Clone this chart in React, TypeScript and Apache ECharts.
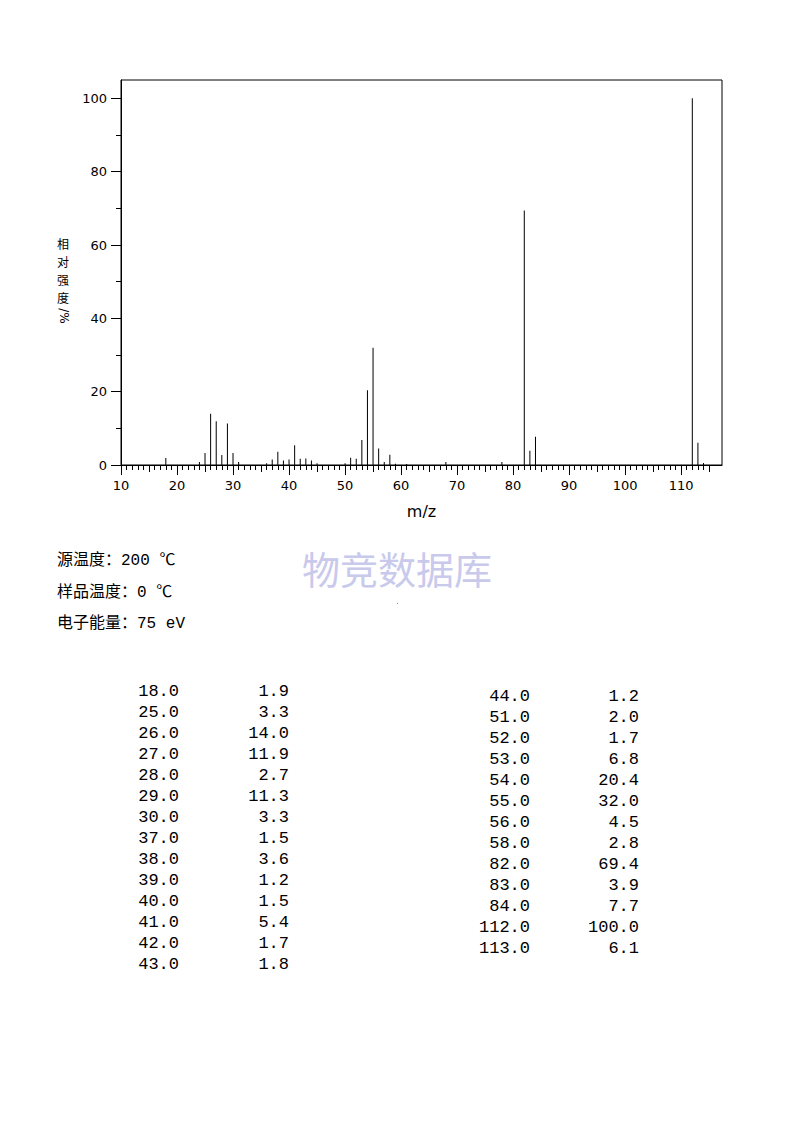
import { useEffect, useRef } from 'react';
import * as echarts from 'echarts';

// peaks that are listed in the table under the plot
const listedMz = [18, 25, 26, 27, 28, 29, 30, 37, 38, 39, 40, 41, 42, 43, 44, 51, 52, 53, 54, 55, 56, 58, 82, 83, 84, 112, 113];
const listedIntensity = [1.9, 3.3, 14.0, 11.9, 2.7, 11.3, 3.3, 1.5, 3.6, 1.2, 1.5, 5.4, 1.7, 1.8, 1.2, 2.0, 1.7, 6.8, 20.4, 32.0, 4.5, 2.8, 69.4, 3.9, 7.7, 100.0, 6.1];
// small peaks seen in the plot only
const minorMz = [24, 31, 36, 45, 50, 57, 59, 61, 68, 78, 114];
const minorIntensity = [0.8, 0.8, 0.45, 0.45, 0.5, 0.8, 0.35, 0.3, 0.8, 0.8, 0.55];

const xLabelValues = [10, 20, 30, 40, 50, 60, 70, 80, 90, 100, 110];
const xMidTicks = [15, 25, 35, 45, 55, 65, 75, 85, 95, 105, 115];
const xSmallTicks = Array.from({ length: 105 }, (_, i) => 11 + i).filter((v) => v % 5 !== 0);
const yLabelValues = [0, 20, 40, 60, 80, 100];
const yMinorTicks = [10, 30, 50, 70, 90];

const yNameChars = ['相', '对', '强', '度'];
const infoLines = ['源温度：200 ℃', '样品温度：0 ℃', '电子能量：75 eV'];
const watermark = '物竞数据库';

const labelFont = '"DejaVu Sans", Verdana, sans-serif';
const cjkFont = '"Liberation Mono", "Noto Sans CJK SC", monospace';
const monoFont = '"Liberation Mono", monospace';

const txt = (x: number, y: number, text: string, size: number, family: string, align = 'left', fill = '#000', extra: any = {}) => ({
  type: 'text',
  x,
  y,
  ...extra,
  style: {
    text,
    fontSize: size,
    fontFamily: family,
    fill,
    align,
    textAlign: align,
    verticalAlign: 'middle',
    textVerticalAlign: 'middle',
  },
});

const App = () => {
  const chartDom = useRef<HTMLDivElement | null>(null);

  useEffect(() => {
    if (!chartDom.current) return;
    const myChart = echarts.init(chartDom.current, null, { renderer: 'svg' });

    const peaks = listedMz
      .map((m, i) => [m, listedIntensity[i]])
      .concat(minorMz.map((m, i) => [m, minorIntensity[i]]))
      .sort((a, b) => a[0] - b[0]);

    const table: any[] = [];
    listedMz.forEach((m, i) => {
      const left = i < 14;
      const row = left ? i : i - 14;
      const y = (left ? 691 : 696) + row * 21;
      table.push(txt(left ? 179 : 530, y, m.toFixed(1), 17, monoFont, 'right'));
      table.push(txt(left ? 289 : 639, y, listedIntensity[i].toFixed(1), 17, monoFont, 'right'));
    });

    const baseX = {
      type: 'value',
      min: 10,
      max: 117.3,
      position: 'bottom',
      gridIndex: 0,
      splitLine: { show: false },
    };
    const baseY = {
      type: 'value',
      min: 0,
      max: 105,
      position: 'left',
      gridIndex: 0,
      splitLine: { show: false },
    };

    const option = {
      animation: false,
      backgroundColor: '#fff',
      grid: {
        left: 121,
        top: 80,
        width: 601,
        height: 385,
        show: true,
        borderColor: '#000',
        borderWidth: 1,
        backgroundColor: 'transparent',
      },
      xAxis: [
        {
          ...baseX,
          name: 'm/z',
          nameLocation: 'middle',
          nameGap: 38,
          nameTextStyle: { fontSize: 16, fontFamily: labelFont, color: '#000' },
          axisLine: { show: true, onZero: false, lineStyle: { color: '#000', width: 1 } },
          axisTick: { show: true, customValues: xLabelValues, length: 10, lineStyle: { color: '#000' } },
          axisLabel: { customValues: xLabelValues, margin: 14, fontSize: 13, fontFamily: labelFont, color: '#000' },
        },
        {
          ...baseX,
          axisLine: { show: false },
          axisTick: { show: true, customValues: xMidTicks, length: 7, lineStyle: { color: '#000' } },
          axisLabel: { show: false },
        },
        {
          ...baseX,
          axisLine: { show: false },
          axisTick: { show: true, customValues: xSmallTicks, length: 5, lineStyle: { color: '#000' } },
          axisLabel: { show: false },
        },
      ],
      yAxis: [
        {
          ...baseY,
          axisLine: { show: true, onZero: false, lineStyle: { color: '#000', width: 1 } },
          axisTick: { show: true, customValues: yLabelValues, length: 10, lineStyle: { color: '#000' } },
          axisLabel: { customValues: yLabelValues, margin: 14, fontSize: 13, fontFamily: labelFont, color: '#000' },
        },
        {
          ...baseY,
          axisLine: { show: false },
          axisTick: { show: true, customValues: yMinorTicks, length: 5, lineStyle: { color: '#000' } },
          axisLabel: { show: false },
        },
      ],
      series: [
        {
          type: 'bar',
          xAxisIndex: 0,
          yAxisIndex: 0,
          barWidth: 1,
          itemStyle: { color: '#000' },
          data: peaks,
        },
      ],
      graphic: [
        ...yNameChars.map((ch, i) => txt(63, 243 + i * 18, ch, 12, '"Noto Sans CJK SC", sans-serif', 'center')),
        txt(64, 316, '/%', 12, labelFont, 'center', '#000', { rotation: -Math.PI / 2 }),
        ...infoLines.map((line, i) => txt(57, [561, 593, 624][i], line, 16, cjkFont)),
        txt(397, 567, watermark, 38, '"Noto Sans CJK SC", sans-serif', 'center', '#c9c9ec'),
        { type: 'rect', shape: { x: 397, y: 603, width: 1, height: 1 }, style: { fill: '#999' } },
        ...table,
      ],
    };

    myChart.setOption(option as any);

    return () => {
      myChart.dispose();
    };
  }, []);

  return (
    <div style={{ position: 'absolute', left: 0, top: 0, width: 794, height: 1134, background: '#fff' }}>
      <div ref={chartDom} style={{ width: '100%', height: '100%' }} />
    </div>
  );
};

export default App;
